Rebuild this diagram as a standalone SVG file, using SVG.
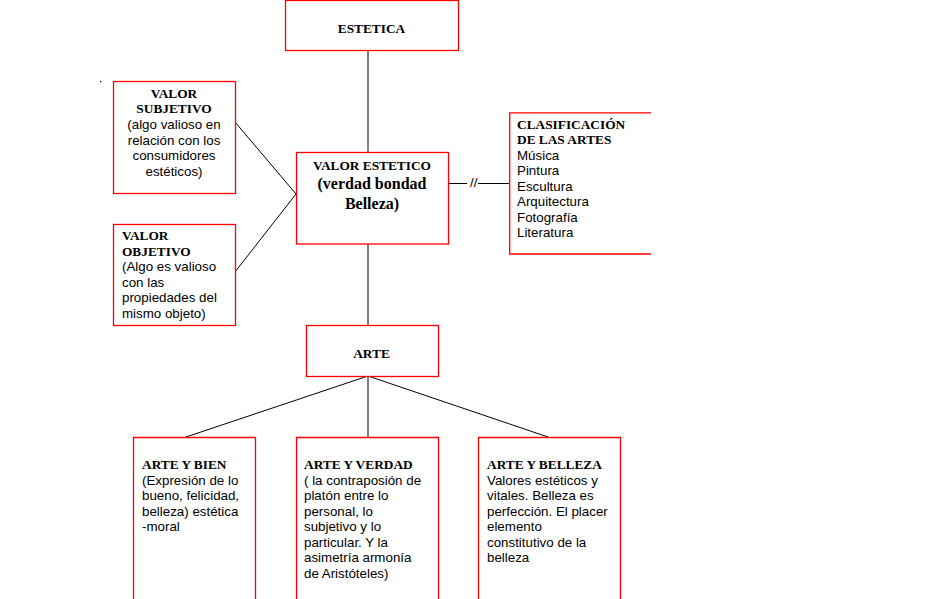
<svg xmlns="http://www.w3.org/2000/svg" width="948" height="599" viewBox="0 0 948 599">
<style>
.box{fill:#fff;stroke:#ff0000;stroke-width:1.3}
.open{fill:none;stroke:#ff0000;stroke-width:1.3}
.ln{stroke:#000;stroke-width:1;fill:none}
.t{font-family:"Liberation Serif","Times New Roman",serif;font-weight:bold;font-size:13.33px;fill:#000}
.tb{font-family:"Liberation Serif","Times New Roman",serif;font-weight:bold;font-size:16px;fill:#000}
.s{font-family:"Liberation Sans",Arial,sans-serif;font-size:13.33px;fill:#000}
.c{text-anchor:middle}
</style>
<rect width="948" height="599" fill="#fff"/>
<g id="connectors">
<line class="ln" x1="368" y1="51" x2="368" y2="152"/>
<line class="ln" x1="235" y1="122" x2="296" y2="194"/>
<line class="ln" x1="235" y1="272" x2="296" y2="194"/>
<line class="ln" x1="448" y1="183.5" x2="467" y2="183.5"/>
<line class="ln" x1="478" y1="183.5" x2="509" y2="183.5"/>
<text class="s" x="470" y="187" font-size="12">//</text>
<line class="ln" x1="368" y1="244" x2="368" y2="325"/>
<line class="ln" x1="368" y1="376" x2="186" y2="437"/>
<line class="ln" x1="368" y1="376" x2="368" y2="437"/>
<line class="ln" x1="368" y1="376" x2="548" y2="437"/>
</g>
<rect x="100" y="81" width="1.2" height="1.2" fill="#000"/>
<g id="estetica">
<rect class="box" x="285.5" y="0.5" width="173" height="50"/>
<text class="t c" x="371.5" y="33">ESTETICA</text>
</g>
<g id="valor-estetico">
<rect class="box" x="296.5" y="152.5" width="152" height="91.5"/>
<text class="t c" x="372" y="170">VALOR ESTETICO</text>
<text class="tb c" x="372" y="189">(verdad bondad</text>
<text class="tb c" x="372" y="209">Belleza)</text>
</g>
<g id="valor-subjetivo">
<rect class="box" x="113.5" y="81.5" width="122" height="112"/>
<text class="t c" x="174" y="97.5">VALOR</text>
<text class="t c" x="174" y="113">SUBJETIVO</text>
<text class="s c" x="174" y="129">(algo valioso en</text>
<text class="s c" x="174" y="144.5">relación con los</text>
<text class="s c" x="174" y="160">consumidores</text>
<text class="s c" x="174" y="175.5">estéticos)</text>
</g>
<g id="valor-objetivo">
<rect class="box" x="113.5" y="224.5" width="122" height="101"/>
<text class="t" x="122" y="240">VALOR</text>
<text class="t" x="122" y="255.5">OBJETIVO</text>
<text class="s" x="122" y="271">(Algo es valioso</text>
<text class="s" x="122" y="286.5">con las</text>
<text class="s" x="122" y="302">propiedades del</text>
<text class="s" x="122" y="317.5">mismo objeto)</text>
</g>
<g id="clasificacion">
<rect x="510" y="113" width="141" height="141" fill="#fff"/>
<polyline class="open" points="651,112.8 509.7,112.8 509.7,254 651,254"/>
<text class="t" x="517" y="128.5">CLASIFICACIÓN</text>
<text class="t" x="517" y="143.5">DE LAS ARTES</text>
<text class="s" x="517" y="159.5">Música</text>
<text class="s" x="517" y="175">Pintura</text>
<text class="s" x="517" y="190.5">Escultura</text>
<text class="s" x="517" y="206">Arquitectura</text>
<text class="s" x="517" y="221.5">Fotografía</text>
<text class="s" x="517" y="237">Literatura</text>
</g>
<g id="arte">
<rect class="box" x="306.5" y="325.5" width="132" height="51"/>
<text class="t c" x="371.5" y="357.5">ARTE</text>
</g>
<g id="arte-bien">
<polyline class="open" points="133.5,600 133.5,437.5 255.5,437.5 255.5,600"/>
<text class="t" x="142" y="469">ARTE Y BIEN</text>
<text class="s" x="142" y="484.5">(Expresión de lo</text>
<text class="s" x="142" y="500">bueno, felicidad,</text>
<text class="s" x="142" y="515.5">belleza) estética</text>
<text class="s" x="142" y="531">-moral</text>
</g>
<g id="arte-verdad">
<polyline class="open" points="296.5,600 296.5,437.5 438.5,437.5 438.5,600"/>
<text class="t" x="304" y="469">ARTE Y VERDAD</text>
<text class="s" x="304" y="484.5">( la contraposión de</text>
<text class="s" x="304" y="500">platón entre lo</text>
<text class="s" x="304" y="515.5">personal, lo</text>
<text class="s" x="304" y="531">subjetivo y lo</text>
<text class="s" x="304" y="546.5">particular. Y la</text>
<text class="s" x="304" y="562">asimetría armonía</text>
<text class="s" x="304" y="577.5">de Aristóteles)</text>
</g>
<g id="arte-belleza">
<polyline class="open" points="478.5,600 478.5,437.5 620.5,437.5 620.5,600"/>
<text class="t" x="487" y="469">ARTE Y BELLEZA</text>
<text class="s" x="487" y="484.5">Valores estéticos y</text>
<text class="s" x="487" y="500">vitales. Belleza es</text>
<text class="s" x="487" y="515.5">perfección. El placer</text>
<text class="s" x="487" y="531">elemento</text>
<text class="s" x="487" y="546.5">constitutivo de la</text>
<text class="s" x="487" y="562">belleza</text>
</g>
</svg>
